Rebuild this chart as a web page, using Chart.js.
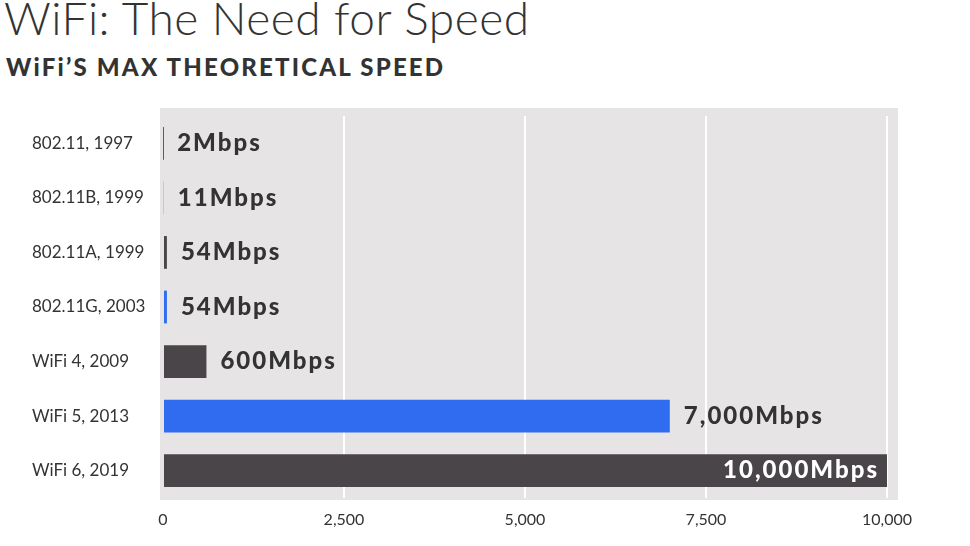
<!DOCTYPE html>
<html>
  <head>
    <meta charset="utf-8">
    <script src="https://cdn.jsdelivr.net/npm/chart.js@4.4.0/dist/chart.umd.min.js"></script>
    <style>
      body { margin: 0; background: #fff; font-family: Lato, sans-serif; }
      #wrap { position: relative; width: 970px; height: 546px; }
      h1 { position: absolute; left: 4px; top: -10px; margin: 0; font-weight: 300; font-size: 46px; color: #333; letter-spacing: 0.5px; }
      h2 { position: absolute; left: 6px; top: 52px; margin: 0; font-weight: 900; font-size: 24px; color: #333; letter-spacing: 2.2px; }
      canvas { position: absolute; left: 0; top: 0; }
    </style>
  </head>
  <body>
    <div id="wrap">
      <h1>WiFi: The Need for Speed</h1>
      <h2>WiFi’S MAX THEORETICAL SPEED</h2>
      <canvas id="speedChart" width="970" height="546"></canvas>
    </div>
    <script>
      const standards = ['802.11, 1997', '802.11B, 1999', '802.11A, 1999', '802.11G, 2003', 'WiFi 4, 2009', 'WiFi 5, 2013', 'WiFi 6, 2019'];
      const speeds = [2, 11, 54, 54, 600, 7000, 10000];
      const speedLabels = ['2Mbps', '11Mbps', '54Mbps', '54Mbps', '600Mbps', '7,000Mbps', '10,000Mbps'];
      const barColors = ['#4a4548', '#2f6cf0', '#4a4548', '#2f6cf0', '#4a4548', '#2f6cf0', '#4a4548'];

      const panelBg = {
        id: 'panelBg',
        beforeDraw(chart) {
          const { ctx, chartArea: a } = chart;
          ctx.save();
          ctx.fillStyle = '#e6e4e5';
          ctx.fillRect(a.left - 3, a.top - 8, a.width + 14, a.height + 10);
          ctx.restore();
        }
      };

      const valueLabels = {
        id: 'valueLabels',
        afterDatasetsDraw(chart) {
          const { ctx } = chart;
          const meta = chart.getDatasetMeta(0);
          ctx.save();
          ctx.font = '900 24px Lato';
          ctx.letterSpacing = '2px';
          ctx.textBaseline = 'middle';
          meta.data.forEach((bar, i) => {
            if (speeds[i] >= 10000) {
              ctx.fillStyle = '#fff';
              ctx.textAlign = 'right';
              ctx.fillText(speedLabels[i], bar.x - 8, bar.y);
            } else {
              ctx.fillStyle = '#333';
              ctx.textAlign = 'left';
              ctx.fillText(speedLabels[i], bar.x + 14, bar.y);
            }
          });
          ctx.restore();
        }
      };

      new Chart(document.getElementById('speedChart'), {
        type: 'bar',
        data: {
          labels: standards,
          datasets: [{ data: speeds, backgroundColor: barColors, barPercentage: 1, categoryPercentage: 0.6 }]
        },
        options: {
          indexAxis: 'y',
          responsive: false,
          animation: false,
          layout: { padding: { top: 116, right: 83, left: 32 } },
          plugins: { legend: { display: false }, tooltip: { enabled: false } },
          scales: {
            x: {
              min: 0, max: 10000,
              ticks: { stepSize: 2500, color: '#333', font: { family: 'Lato', size: 16 }, padding: 12,
                       callback: v => v.toLocaleString('en-US') },
              grid: { color: ctx => ctx.tick && ctx.tick.value === 0 ? 'rgba(0,0,0,0)' : '#fff', lineWidth: 2, drawTicks: false },
              border: { display: false },
              afterFit: s => { s.height = 48; }
            },
            y: {
              ticks: { color: '#333', font: { family: 'Lato', size: 17 }, crossAlign: 'far', padding: 12 },
              grid: { display: false },
              border: { display: false },
              afterFit: s => { s.width = 131; }
            }
          }
        },
        plugins: [panelBg, valueLabels]
      });
    </script>
  </body>
</html>
